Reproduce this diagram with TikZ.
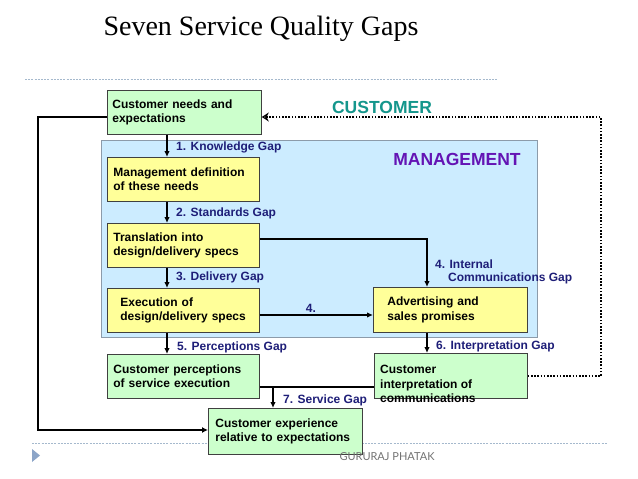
\documentclass[tikz,border=0pt]{standalone}
\usepackage{fontspec}
\setmainfont{Liberation Sans}
\newfontfamily\titlefont{Liberation Serif}
\newfontfamily\footfont{Lato}
\usetikzlibrary{arrows.meta}
\definecolor{boxgreen}{RGB}{204,255,204}
\definecolor{boxyellow}{RGB}{255,255,153}
\definecolor{mgmtblue}{RGB}{204,236,255}
\definecolor{mgmtedge}{RGB}{140,155,170}
\definecolor{gapnavy}{RGB}{30,30,120}
\definecolor{custteal}{RGB}{20,150,140}
\definecolor{mgmtpurple}{RGB}{100,20,180}
\definecolor{footline}{RGB}{165,185,205}
\definecolor{foottri}{RGB}{140,165,200}
\tikzset{
  boxbase/.style={draw=black!75, line width=0.8pt, anchor=north west, align=left,
    font=\bfseries\fontsize{12}{14.5}\selectfont, inner ysep=0pt},
  gbox/.style={boxbase, fill=boxgreen},
  ybox/.style={boxbase, fill=boxyellow},
  gaplab/.style={font=\bfseries\fontsize{12}{14}\selectfont, text=gapnavy, anchor=west, inner sep=0pt},
  arr/.style={line width=1.4pt, -{Latex[length=6pt,width=5.5pt]}},
  plainline/.style={line width=1.4pt},
  bigarr/.style={line width=2.6pt, -{Latex[length=6pt,width=6pt]}},
  dotarr/.style={line width=1.8pt, dash pattern=on 1.6pt off 1.6pt, -{Stealth[length=7pt,width=9pt,open]}},
  footdash/.style={draw=footline, line width=0.6pt, dash pattern=on 2pt off 1.2pt}
}
\begin{document}
\begin{tikzpicture}[x=1pt,y=-1pt]
\useasboundingbox (0,0) rectangle (638,479);
\fill[white] (0,0) rectangle (638,479);

% title and footer
\node[anchor=base, inner sep=0pt, font=\titlefont\fontsize{28}{30}\selectfont] (title) at (261,35) {Seven Service Quality Gaps};
\draw[footdash] (25,79) -- (497,79);
\draw[footdash] (32,443) -- (607,443);
\fill[foottri] (32,449) -- (40,455.5) -- (32,462) -- cycle;

% management region
\node[draw=mgmtedge, fill=mgmtblue, line width=0.6pt, anchor=north west, minimum width=436pt, minimum height=197pt, inner sep=0pt] (mgmt) at (101,140) {};
\node[font=\bfseries\fontsize{17.5}{20}\selectfont, text=mgmtpurple, inner sep=0pt] (mgmtlab) at (457,159) {MANAGEMENT};
\node[font=\bfseries\fontsize{17.5}{20}\selectfont, text=custteal, inner sep=0pt] (custlab) at (382,107) {CUSTOMER};

% boxes
\node[gbox, text width=144pt, inner xsep=5pt, minimum height=44pt] (cust) at (107,90) {Customer needs and\\expectations};
\node[ybox, text width=140pt, inner xsep=6pt, minimum height=44pt] (mdef) at (107,157) {Management definition\\of these needs};
\node[ybox, text width=140pt, inner xsep=6pt, minimum height=44pt] (trans) at (107,223) {Translation into\\design/delivery specs};
\node[ybox, text width=126pt, inner xsep=13pt, minimum height=44pt] (exec) at (107,288) {Execution of\\design/delivery specs};
\node[gbox, text width=140pt, inner xsep=6pt, minimum height=44pt] (perc) at (107,354) {Customer perceptions\\of service execution};
\node[ybox, text width=126pt, inner xsep=14pt, minimum height=45pt] (adv) at (373,287) {Advertising and\\sales promises};
\node[gbox, minimum width=153pt, minimum height=45pt, inner sep=0pt] (interp) at (374,353) {};
\node[anchor=north west, align=left, inner sep=0pt, font=\bfseries\fontsize{12}{14.5}\selectfont] (interptxt) at (380,365) {Customer\\interpretation of\\communications};
\node[gbox, text width=140pt, inner xsep=7pt, minimum height=46pt] (exp) at (208,408) {Customer experience\\relative to expectations};
\node[inner sep=0pt, text=black!55, font=\footfont\fontsize{11}{13}\selectfont] (author) at (387,457) {GURURAJ PHATAK};

% helper coordinates
\coordinate (c1) at (167,0);
\coordinate (c4) at (427,0);
\coordinate (t4) at (0,239);
\coordinate (e4) at (0,315);
\coordinate (s7) at (0,387);
\coordinate (c7) at (273,387);
\coordinate (lt) at (38,117);
\coordinate (lb) at (38,430);
\coordinate (rt) at (601,117);
\coordinate (rb) at (601,376);

% connectors
\draw[arr] (cust.south -| c1) -- (mdef.north -| c1);
\draw[arr] (mdef.south -| c1) -- (trans.north -| c1);
\draw[arr] (trans.south -| c1) -- (exec.north -| c1);
\draw[arr] (exec.south -| c1) -- (perc.north -| c1);
\draw[arr] (trans.east |- t4) -- (c4 |- t4) -- (adv.north -| c4);
\draw[arr] (exec.east |- e4) -- (adv.west |- e4);
\draw[arr] (adv.south -| c4) -- (interp.north -| c4);
\draw[plainline] (perc.east |- s7) -- (interp.west |- s7);
\draw[arr] (c7) -- (exp.north -| c7);
\draw[bigarr] (cust.west |- lt) -- (lt) -- (lb) -- (exp.west |- lb);
\draw[dotarr] (interp.east |- rb) -- (rb) -- (rt) -- (cust.east |- rt);

% gap labels
\node[gaplab] (g1) at (176,147) {1. Knowledge Gap};
\node[gaplab] (g2) at (176,213) {2. Standards Gap};
\node[gaplab] (g3) at (176,277) {3. Delivery Gap};
\node[gaplab, anchor=center] (g4a) at (311,308) {4.};
\node[gaplab] (g4b) at (435,264) {4. Internal};
\node[gaplab] (g4c) at (448,278) {Communications Gap};
\node[gaplab] (g5) at (177,347) {5. Perceptions Gap};
\node[gaplab] (g6) at (436,346) {6. Interpretation Gap};
\node[gaplab] (g7) at (283,400) {7. Service Gap};
\end{tikzpicture}
\end{document}
